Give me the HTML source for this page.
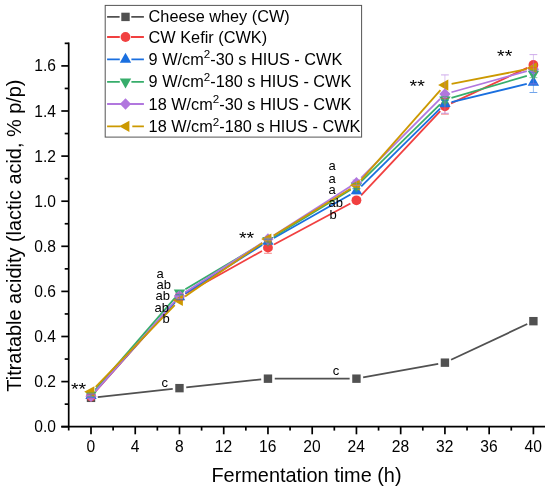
<!DOCTYPE html>
<html><head><meta charset="utf-8"><title>Titratable acidity</title>
<style>html,body{margin:0;padding:0;background:#fff}svg{display:block}</style></head>
<body>
<svg width="550" height="492" viewBox="0 0 550 492" font-family="'Liberation Sans', Arial, sans-serif" fill="#000">
<rect width="550" height="492" fill="#fff"/>
<g stroke="#000" stroke-width="1.7" fill="none" stroke-linecap="butt">
<line x1="68.7" y1="42.5" x2="68.7" y2="430.6"/>
<line x1="61.3" y1="426.7" x2="545" y2="426.7"/>
<line x1="61.3" y1="426.70" x2="68.7" y2="426.70"/>
<line x1="61.3" y1="381.60" x2="68.7" y2="381.60"/>
<line x1="61.3" y1="336.50" x2="68.7" y2="336.50"/>
<line x1="61.3" y1="291.40" x2="68.7" y2="291.40"/>
<line x1="61.3" y1="246.30" x2="68.7" y2="246.30"/>
<line x1="61.3" y1="201.20" x2="68.7" y2="201.20"/>
<line x1="61.3" y1="156.10" x2="68.7" y2="156.10"/>
<line x1="61.3" y1="111.00" x2="68.7" y2="111.00"/>
<line x1="61.3" y1="65.90" x2="68.7" y2="65.90"/>
<line x1="64.7" y1="404.15" x2="68.7" y2="404.15"/>
<line x1="64.7" y1="359.05" x2="68.7" y2="359.05"/>
<line x1="64.7" y1="313.95" x2="68.7" y2="313.95"/>
<line x1="64.7" y1="268.85" x2="68.7" y2="268.85"/>
<line x1="64.7" y1="223.75" x2="68.7" y2="223.75"/>
<line x1="64.7" y1="178.65" x2="68.7" y2="178.65"/>
<line x1="64.7" y1="133.55" x2="68.7" y2="133.55"/>
<line x1="64.7" y1="88.45" x2="68.7" y2="88.45"/>
<line x1="64.7" y1="43.35" x2="68.7" y2="43.35"/>
<line x1="91.00" y1="426.7" x2="91.00" y2="434.3"/>
<line x1="135.24" y1="426.7" x2="135.24" y2="434.3"/>
<line x1="179.48" y1="426.7" x2="179.48" y2="434.3"/>
<line x1="223.72" y1="426.7" x2="223.72" y2="434.3"/>
<line x1="267.96" y1="426.7" x2="267.96" y2="434.3"/>
<line x1="312.20" y1="426.7" x2="312.20" y2="434.3"/>
<line x1="356.44" y1="426.7" x2="356.44" y2="434.3"/>
<line x1="400.68" y1="426.7" x2="400.68" y2="434.3"/>
<line x1="444.92" y1="426.7" x2="444.92" y2="434.3"/>
<line x1="489.16" y1="426.7" x2="489.16" y2="434.3"/>
<line x1="533.40" y1="426.7" x2="533.40" y2="434.3"/>
<line x1="113.12" y1="426.7" x2="113.12" y2="430.6"/>
<line x1="157.36" y1="426.7" x2="157.36" y2="430.6"/>
<line x1="201.60" y1="426.7" x2="201.60" y2="430.6"/>
<line x1="245.84" y1="426.7" x2="245.84" y2="430.6"/>
<line x1="290.08" y1="426.7" x2="290.08" y2="430.6"/>
<line x1="334.32" y1="426.7" x2="334.32" y2="430.6"/>
<line x1="378.56" y1="426.7" x2="378.56" y2="430.6"/>
<line x1="422.80" y1="426.7" x2="422.80" y2="430.6"/>
<line x1="467.04" y1="426.7" x2="467.04" y2="430.6"/>
<line x1="511.28" y1="426.7" x2="511.28" y2="430.6"/>
</g>
<g font-size="15.6px">
<text x="56" y="432.20" text-anchor="end">0.0</text>
<text x="56" y="387.10" text-anchor="end">0.2</text>
<text x="56" y="342.00" text-anchor="end">0.4</text>
<text x="56" y="296.90" text-anchor="end">0.6</text>
<text x="56" y="251.80" text-anchor="end">0.8</text>
<text x="56" y="206.70" text-anchor="end">1.0</text>
<text x="56" y="161.60" text-anchor="end">1.2</text>
<text x="56" y="116.50" text-anchor="end">1.4</text>
<text x="56" y="71.40" text-anchor="end">1.6</text>
<text x="90.80" y="451.7" text-anchor="middle">0</text>
<text x="135.04" y="451.7" text-anchor="middle">4</text>
<text x="179.28" y="451.7" text-anchor="middle">8</text>
<text x="223.52" y="451.7" text-anchor="middle">12</text>
<text x="267.76" y="451.7" text-anchor="middle">16</text>
<text x="312.00" y="451.7" text-anchor="middle">20</text>
<text x="356.24" y="451.7" text-anchor="middle">24</text>
<text x="400.48" y="451.7" text-anchor="middle">28</text>
<text x="444.72" y="451.7" text-anchor="middle">32</text>
<text x="488.96" y="451.7" text-anchor="middle">36</text>
<text x="533.20" y="451.7" text-anchor="middle">40</text>
</g>
<text x="306.5" y="482.4" font-size="19.9px" text-anchor="middle">Fermentation time (h)</text>
<text transform="translate(20.9,235.6) rotate(-90)" font-size="19.9px" text-anchor="middle">Titratable acidity (lactic acid, % p/p)</text>
<g stroke="#515151" stroke-width="1.8" fill="none">
<line x1="97.76" y1="397.10" x2="172.72" y2="388.88"/>
<line x1="186.24" y1="387.42" x2="261.20" y2="379.39"/>
<line x1="274.76" y1="378.67" x2="349.64" y2="378.67"/>
<line x1="363.13" y1="377.46" x2="438.23" y2="363.87"/>
<line x1="451.08" y1="359.77" x2="527.24" y2="324.05"/>
</g>
<rect x="86.80" y="393.64" width="8.4" height="8.4" fill="#515151"/>
<rect x="175.28" y="383.94" width="8.4" height="8.4" fill="#515151"/>
<rect x="263.76" y="374.47" width="8.4" height="8.4" fill="#515151"/>
<rect x="352.24" y="374.47" width="8.4" height="8.4" fill="#515151"/>
<rect x="440.72" y="358.46" width="8.4" height="8.4" fill="#515151"/>
<rect x="529.20" y="316.97" width="8.4" height="8.4" fill="#515151"/>
<g stroke="#F14040" stroke-width="1.8" fill="none">
<line x1="95.52" y1="391.40" x2="174.96" y2="302.12"/>
<line x1="185.42" y1="293.72" x2="262.02" y2="250.97"/>
<line x1="273.96" y1="244.44" x2="350.44" y2="203.51"/>
<line x1="361.10" y1="195.35" x2="440.26" y2="111.22"/>
<line x1="451.08" y1="103.39" x2="527.24" y2="67.87"/>
</g>
<circle cx="91.00" cy="396.48" r="4.9" fill="#F14040"/>
<circle cx="179.48" cy="297.04" r="4.9" fill="#F14040"/>
<circle cx="267.96" cy="247.65" r="4.9" fill="#F14040"/>
<circle cx="356.44" cy="200.30" r="4.9" fill="#F14040"/>
<circle cx="444.92" cy="106.26" r="4.9" fill="#F14040"/>
<circle cx="533.40" cy="65.00" r="4.9" fill="#F14040"/>
<g stroke="#1A6FDF" stroke-width="1.8" fill="none">
<line x1="95.54" y1="390.74" x2="174.94" y2="302.10"/>
<line x1="185.23" y1="293.41" x2="262.21" y2="244.96"/>
<line x1="273.87" y1="237.98" x2="350.53" y2="194.41"/>
<line x1="361.28" y1="186.28" x2="440.08" y2="108.56"/>
<line x1="451.53" y1="102.18" x2="526.79" y2="83.96"/>
</g>
<polygon points="91.00,389.21 96.70,399.11 85.30,399.11" fill="#1A6FDF"/>
<polygon points="179.48,290.44 185.18,300.34 173.78,300.34" fill="#1A6FDF"/>
<polygon points="267.96,234.74 273.66,244.64 262.26,244.64" fill="#1A6FDF"/>
<polygon points="356.44,184.45 362.14,194.35 350.74,194.35" fill="#1A6FDF"/>
<polygon points="444.92,97.18 450.62,107.08 439.22,107.08" fill="#1A6FDF"/>
<polygon points="533.40,75.76 539.10,85.66 527.70,85.66" fill="#1A6FDF"/>
<g stroke="#37AD6B" stroke-width="1.8" fill="none">
<line x1="95.46" y1="389.54" x2="175.02" y2="297.89"/>
<line x1="185.33" y1="289.28" x2="262.11" y2="243.68"/>
<line x1="273.76" y1="236.66" x2="350.64" y2="189.64"/>
<line x1="361.31" y1="181.34" x2="440.05" y2="104.47"/>
<line x1="451.45" y1="97.83" x2="526.87" y2="75.92"/>
</g>
<polygon points="91.00,401.28 96.70,391.38 85.30,391.38" fill="#37AD6B"/>
<polygon points="179.48,299.35 185.18,289.45 173.78,289.45" fill="#37AD6B"/>
<polygon points="267.96,246.81 273.66,236.91 262.26,236.91" fill="#37AD6B"/>
<polygon points="356.44,192.69 362.14,182.79 350.74,182.79" fill="#37AD6B"/>
<polygon points="444.92,106.33 450.62,96.43 439.22,96.43" fill="#37AD6B"/>
<polygon points="533.40,80.62 539.10,70.72 527.70,70.72" fill="#37AD6B"/>
<g stroke="#B177DE" stroke-width="1.8" fill="none">
<line x1="95.50" y1="391.16" x2="174.98" y2="301.01"/>
<line x1="185.20" y1="292.24" x2="262.24" y2="242.76"/>
<line x1="273.69" y1="235.43" x2="350.71" y2="186.36"/>
<line x1="361.24" y1="177.90" x2="440.12" y2="98.90"/>
<line x1="451.47" y1="92.25" x2="526.85" y2="71.12"/>
</g>
<polygon points="91.00,390.46 96.60,396.26 91.00,402.06 85.40,396.26" fill="#B177DE"/>
<polygon points="179.48,290.11 185.08,295.91 179.48,301.71 173.88,295.91" fill="#B177DE"/>
<polygon points="267.96,233.28 273.56,239.08 267.96,244.88 262.36,239.08" fill="#B177DE"/>
<polygon points="356.44,176.91 362.04,182.71 356.44,188.51 350.84,182.71" fill="#B177DE"/>
<polygon points="444.92,88.29 450.52,94.09 444.92,99.89 439.32,94.09" fill="#B177DE"/>
<polygon points="533.40,63.48 539.00,69.28 533.40,75.08 527.80,69.28" fill="#B177DE"/>
<g stroke="#CC9900" stroke-width="1.8" fill="none">
<line x1="95.73" y1="386.86" x2="174.75" y2="305.19"/>
<line x1="185.07" y1="296.44" x2="262.37" y2="242.95"/>
<line x1="273.77" y1="235.55" x2="350.63" y2="188.73"/>
<line x1="360.94" y1="180.09" x2="440.42" y2="90.16"/>
<line x1="451.60" y1="83.77" x2="526.72" y2="69.22"/>
</g>
<polygon points="84.20,391.75 94.40,386.15 94.40,397.35" fill="#CC9900"/>
<polygon points="172.68,300.31 182.88,294.71 182.88,305.91" fill="#CC9900"/>
<polygon points="261.16,239.08 271.36,233.48 271.36,244.68" fill="#CC9900"/>
<polygon points="349.64,185.19 359.84,179.59 359.84,190.79" fill="#CC9900"/>
<polygon points="438.12,85.07 448.32,79.47 448.32,90.67" fill="#CC9900"/>
<polygon points="526.60,67.93 536.80,62.33 536.80,73.53" fill="#CC9900"/>
<g stroke="#515151" stroke-width="1" fill="none" opacity="0.62">
</g>
<g stroke="#F14040" stroke-width="1" fill="none" opacity="0.62">
<path d="M91.00,394.68V398.29" opacity="0.7"/><path d="M87.10,394.68h7.8M87.10,398.29h7.8"/>
<path d="M179.48,293.88V300.19" opacity="0.7"/><path d="M175.58,293.88h7.8M175.58,300.19h7.8"/>
<path d="M267.96,242.02V253.29" opacity="0.7"/><path d="M264.06,242.02h7.8M264.06,253.29h7.8"/>
<path d="M356.44,197.59V203.00" opacity="0.7"/><path d="M352.54,197.59h7.8M352.54,203.00h7.8"/>
<path d="M444.92,98.37V114.16" opacity="0.7"/><path d="M441.02,98.37h7.8M441.02,114.16h7.8"/>
<path d="M533.40,62.29V67.70" opacity="0.7"/><path d="M529.50,62.29h7.8M529.50,67.70h7.8"/>
</g>
<g stroke="#1A6FDF" stroke-width="1" fill="none" opacity="0.62">
<path d="M91.00,394.00V397.61" opacity="0.7"/><path d="M87.10,394.00h7.8M87.10,397.61h7.8"/>
<path d="M179.48,294.33V299.74" opacity="0.7"/><path d="M175.58,294.33h7.8M175.58,299.74h7.8"/>
<path d="M267.96,239.53V243.14" opacity="0.7"/><path d="M264.06,239.53h7.8M264.06,243.14h7.8"/>
<path d="M356.44,188.35V193.76" opacity="0.7"/><path d="M352.54,188.35h7.8M352.54,193.76h7.8"/>
<path d="M444.92,100.63V106.94" opacity="0.7"/><path d="M441.02,100.63h7.8M441.02,106.94h7.8"/>
<path d="M533.40,72.21V92.51" opacity="0.7"/><path d="M529.50,72.21h7.8M529.50,92.51h7.8"/>
</g>
<g stroke="#37AD6B" stroke-width="1" fill="none" opacity="0.62">
<path d="M91.00,392.88V396.48" opacity="0.7"/><path d="M87.10,392.88h7.8M87.10,396.48h7.8"/>
<path d="M179.48,290.50V295.01" opacity="0.7"/><path d="M175.58,290.50h7.8M175.58,295.01h7.8"/>
<path d="M267.96,238.41V242.02" opacity="0.7"/><path d="M264.06,238.41h7.8M264.06,242.02h7.8"/>
<path d="M356.44,183.39V188.80" opacity="0.7"/><path d="M352.54,183.39h7.8M352.54,188.80h7.8"/>
<path d="M444.92,96.57V102.88" opacity="0.7"/><path d="M441.02,96.57h7.8M441.02,102.88h7.8"/>
<path d="M533.40,70.41V77.63" opacity="0.7"/><path d="M529.50,70.41h7.8M529.50,77.63h7.8"/>
</g>
<g stroke="#B177DE" stroke-width="1" fill="none" opacity="0.62">
<path d="M91.00,394.00V398.51" opacity="0.7"/><path d="M87.10,394.00h7.8M87.10,398.51h7.8"/>
<path d="M179.48,293.20V298.62" opacity="0.7"/><path d="M175.58,293.20h7.8M175.58,298.62h7.8"/>
<path d="M267.96,238.18V239.99" opacity="0.7"/><path d="M264.06,238.18h7.8M264.06,239.99h7.8"/>
<path d="M356.44,180.00V185.41" opacity="0.7"/><path d="M352.54,180.00h7.8M352.54,185.41h7.8"/>
<path d="M444.92,74.92V113.25" opacity="0.7"/><path d="M441.02,74.92h7.8M441.02,113.25h7.8"/>
<path d="M533.40,54.62V83.94" opacity="0.7"/><path d="M529.50,54.62h7.8M529.50,83.94h7.8"/>
</g>
<g stroke="#CC9900" stroke-width="1" fill="none" opacity="0.62">
</g>
<g font-size="19.6px">
<text transform="translate(71.0,395.0) scale(1,0.84)">**</text>
<text transform="translate(239.0,243.6) scale(1,0.84)">**</text>
<text transform="translate(409.6,91.6) scale(1,0.84)">**</text>
<text transform="translate(497.1,62.2) scale(1,0.84)">**</text>
</g>
<g font-size="13px">
<text x="156.6" y="278.2">a</text>
<text x="156.6" y="289.0">ab</text>
<text x="155.6" y="299.6">ab</text>
<text x="154.6" y="311.6">ab</text>
<text x="162.4" y="323.0">b</text>
<text x="161.6" y="387.0">c</text>
<text x="332.7" y="374.6">c</text>
<text x="328.6" y="170.3">a</text>
<text x="328.6" y="182.5">a</text>
<text x="328.6" y="194.4">a</text>
<text x="328.6" y="206.9">ab</text>
<text x="329.4" y="219.1">b</text>
</g>
<rect x="105.2" y="5.4" width="256.4" height="131.7" fill="#fff" stroke="#555" stroke-width="1"/>
<path d="M107.1,16.9H119.6M131.3,16.9H143.9" stroke="#515151" stroke-width="1.8" fill="none"/>
<rect x="121.30" y="12.70" width="8.4" height="8.4" fill="#515151"/>
<text x="148.6" y="22.2" font-size="16.3px">Cheese whey (CW)</text>
<path d="M107.1,37.0H119.8M131.0,37.0H143.9" stroke="#F14040" stroke-width="1.8" fill="none"/>
<circle cx="125.50" cy="37.00" r="4.9" fill="#F14040"/>
<text x="148.6" y="42.6" font-size="16.3px">CW Kefir (CWK)</text>
<path d="M107.1,59.4H119.8M131.4,59.4H143.9" stroke="#1A6FDF" stroke-width="1.8" fill="none"/>
<polygon points="125.50,52.80 131.20,62.70 119.80,62.70" fill="#1A6FDF"/>
<text x="148.6" y="64.6" font-size="16.3px">9 W/cm<tspan font-size="11.6px" dy="-6.4">2</tspan><tspan dy="6.4">-30 s HIUS - CWK</tspan></text>
<path d="M107.1,81.8H119.8M131.4,81.8H143.9" stroke="#37AD6B" stroke-width="1.8" fill="none"/>
<polygon points="125.50,88.40 131.20,78.50 119.80,78.50" fill="#37AD6B"/>
<text x="148.6" y="87.0" font-size="16.3px">9 W/cm<tspan font-size="11.6px" dy="-6.4">2</tspan><tspan dy="6.4">-180 s HIUS - CWK</tspan></text>
<path d="M107.1,104.0H121M130,104.0H143.9" stroke="#B177DE" stroke-width="1.8" fill="none"/>
<polygon points="125.50,98.20 131.10,104.00 125.50,109.80 119.90,104.00" fill="#B177DE"/>
<text x="148.6" y="109.8" font-size="16.3px">18 W/cm<tspan font-size="11.6px" dy="-6.4">2</tspan><tspan dy="6.4">-30 s HIUS - CWK</tspan></text>
<path d="M107.1,126.3H120.4M132.3,126.3H143.9" stroke="#CC9900" stroke-width="1.8" fill="none"/>
<polygon points="119.20,126.30 129.40,120.70 129.40,131.90" fill="#CC9900"/>
<text x="148.6" y="132.0" font-size="16.3px">18 W/cm<tspan font-size="11.6px" dy="-6.4">2</tspan><tspan dy="6.4">-180 s HIUS - CWK</tspan></text>
</svg>
</body></html>
